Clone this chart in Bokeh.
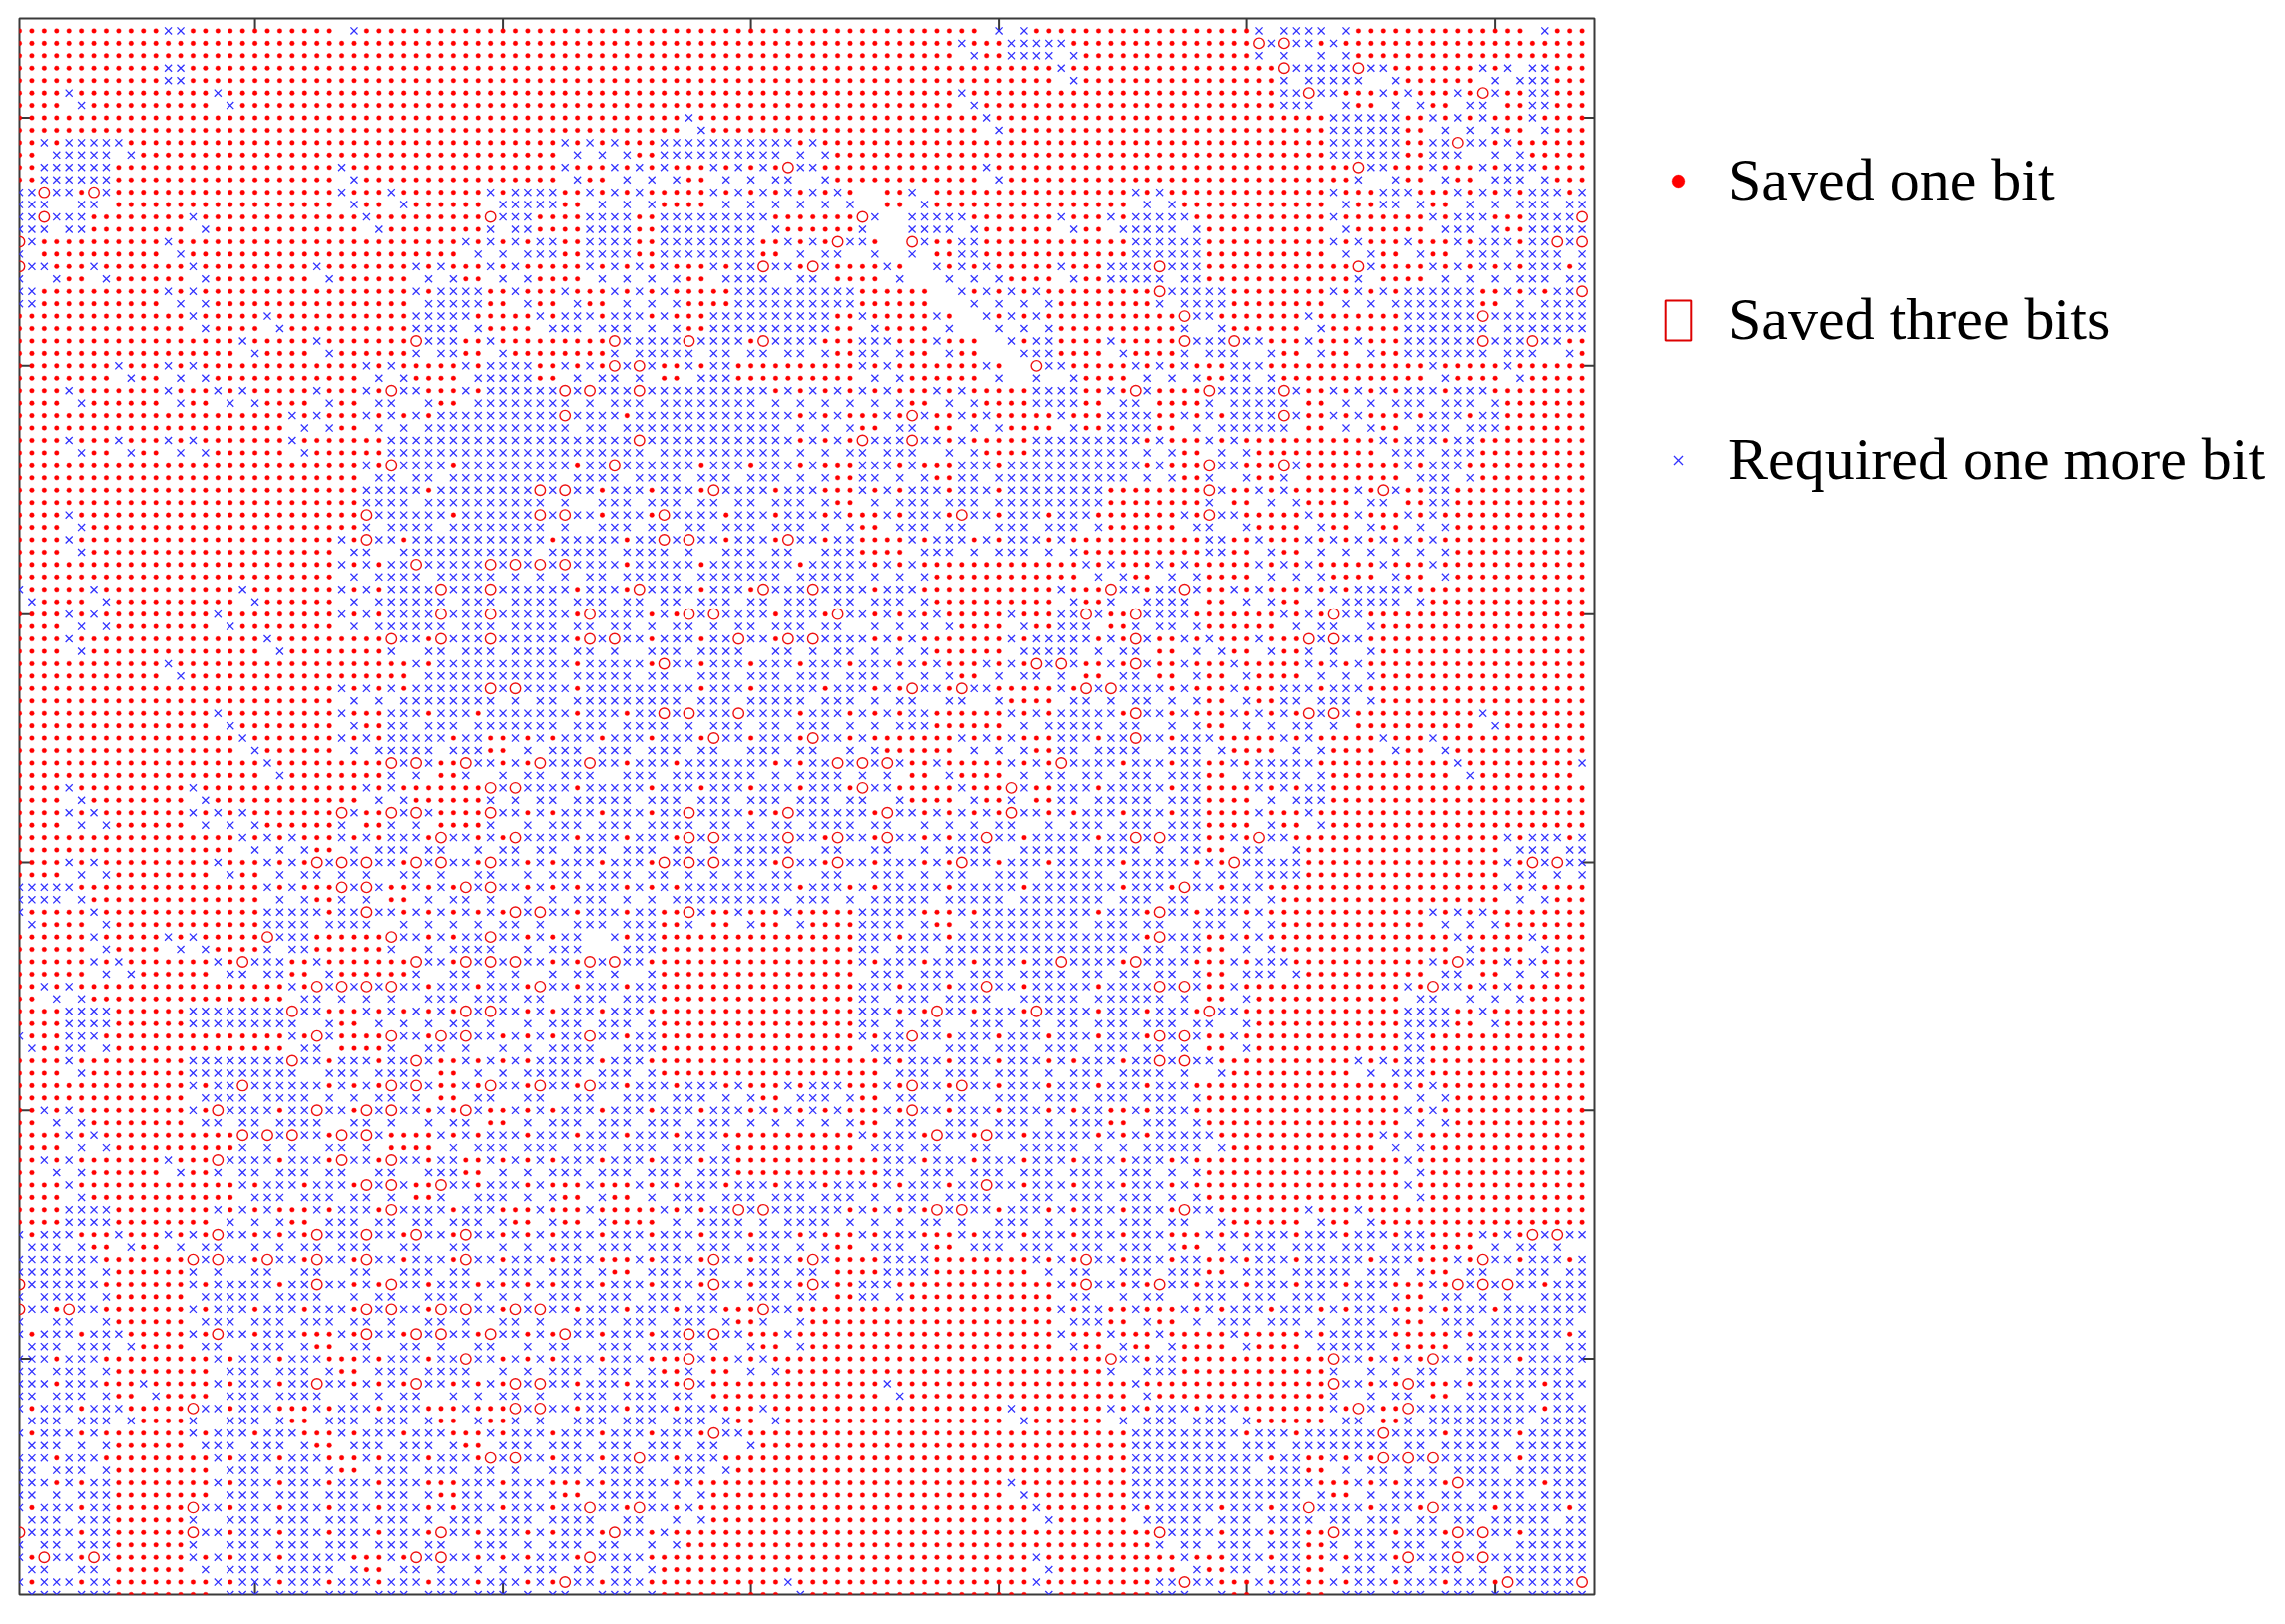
from bokeh.plotting import figure
from bokeh.models import Range1d, Legend, LegendItem
from bokeh.embed import file_html
from bokeh.resources import INLINE

# ---- data: map of the 127x127 cell grid, read in 2x2 blocks (64 x 64 blocks) ----
# block codes: '.' saved one bit, 'x' required one more bit, '%' mix of both,
# 'o' saved three bits with required-one-more-bit neighbours, ' ' empty
ROW_LEFT = [
"......x......%.......", ".....................", "......x..............", "..%.....%............",
".....................", ".%xx%................", ".xxx.........%.......", "xo%o.........%.%...%x",
"xox....%......%....ox", "o.....%...........%%%", "o%.%...%....%...%%.%%", "x.....%%........%xx.%",
".......%..%.....xx%..", ".........%..%...ox.%.", "....%.%%......%%..%xx", "..%...%.%%..%.%o%.%xx",
"...........%%.%%%xxxx", "..%.%.%%...%...xxxxxx", "..............%ox%xxx", "..............xx%xxxx",
"..%...........oxx%xxx", "..%..........%o%xxxxx", ".............%%xoxxoo", "%..%.....%...%%xxoxox",
"..%%....%....%%xxoxox", "..%.......%....o%oxox", "......%.........%xxxx", ".............%%%xxxoo",
"........%....%.x%x%xx", ".........%...%%xx%x.%", "..........%....oo.o%%", "..%....%......%%...oo",
"..%%...%%%...o.oo..o%", ".........%%%.%%x%o%%o", "..%%....%.%%ooo%oo%o%", "xx%.......%%.oo.%%oo%",
"%..%......xx%xo%%%%%o", "...%..%%..ox...o%%xo%", "...%%...%ox.%...o%ooo", ".%%........%oooo%x%x%",
"..xx...xxxxo%.%%%%oo%", "%.x%.......%o..o%oo%%", "..%....xxxxo%x%xo.%%%", ".......%xoxx%%%oo.%o%",
".%%....%ox%xo%oo%%o.%", "..%%.....ooo%oo..%%x%", ".%%...%.ox%x%o%o%x.%%", "..%......%x%x%oo.o%x%",
"..xx....%%%.%x%ox%x%.", "%x%.%.%%o%%%oxo%o%o%%", "xxx%...oo%o%o%o%x%o%x", "oxx%...%xx%xo%%o%x%%%",
"o%o%...%x%x%x%oo%oo%o", "%x%x%..%o%x%.%o%oo%o%", "x%x%....%x%x%.%x%xo%%", "x%x%.%..%x%xo%%%o%%%o",
"%x%x%..o%x%.%x%x%.%.o", "%x%%...%x%x%.%x%x%.%x", "x%x%....%x%x%.%x%x%oo", "x%%x....%x%x%x%x%.x%x",
"%x%x...o%x%x%x%x%%x%x", "ox%x...o%x%x%x%x%o%x%", "%o%o...%%x%xx%.%oo%%%", "%x%x....%x%x%x%x%x%x%",
]
ROW_MID = [
"..................%%.", ".................%.xx", ".....................", ".................%...",
"......%...........%..", ".%%%.xxxxx%%.........", ".%.%%%.%%%o%......%..", "x.%%%..%%%%%% .+.....",
"..xx.xxxx%...o xx%...", "x.xx.xxxx.%%o% o.x...", "..%%%%.%xo%o..% %%%..", ".%.%%%..xxxxx... %%%%",
"%x%x%%.xxxxx.%..% %%%", "...oxxox%ox%.x%.%. %x", ".%%oo.%x.....%%...% o", "xooxoxxxx%%%%%%.%%..x",
"xox%xxxxxx%%%.%o.%%..", "xxxxoxxxxx%%%oxo%%..x", "x%xoxx%x%x%%.x%%.x%xx", "oo%x%x%ox%x%.%%x%x%xx",
"oo%x%ox%x%x%%.%x%o%x%", "%xx%xoo%x%o%x..%x%%x%", "oox%xx%xxx%xx%%%.....", "x%x%ox%x%oxox%x%.....",
"x%ox%%oox%x%o%%%%..%.", "x%oo%x%xo%oox%%%...%x", "x%xx%o%x%x%x%x%%%.%%o", "x%xxxx%x%xx%x%%o%o%..",
"x%x%xooxox%x%%%x...%%", "%x%x%x%o%x%o%%...%%%.", "oxo%x%xxx%%xooo.%..%%", "x%xx%x%x%x%x%o%..%.o.",
"%x%x%xox%%oxx%o%%%%o%", "x%x%x%ooxxo%o%o%%xo%x", "%x%x%ooox%o%o%x%%o%x%", "%%x%%%xxxx%x%%xx%xx%x",
"o%x%x.o.%.%..xx%.%xxx", "%x %x........x%x%xxxx", "%%oo%........%x%x%x%x", "o%x%x........x%x%xo%x",
"%x%x%........x%%o%x%o", "%xo%x........%xo%x%x%", "xx%x%.........%x%x%x%", "o%o%x%x%%.%x%.%o%o%x%",
"%x%x%x%x%%%%%.%o%x%x%", "x%x%x%x%.....%x%o%o%x", "%x%x%x%x......x%x%x%x", "%.%.%%x%x%x%x%%x%xo%x",
"%.%..%%xooxx%%%%oo%x%", "%x%x%x%x%x%%.%x%.%x%x", "%x%.%x%o%x%o..xx....%", "%x%x%x%o%x%o.x%......",
"o%x%x%x%.o%..........", "%o%x%xoo%.%..........", "%x%x%.o.%%...........", "o%x%x%o.......%......",
"o%x%x%x%.%.........%.", "%x%x%x%o%............", "%x%xo%x%.............", "%.%xx%%............%.",
"%xo%o%%.............%", "%x%o%%...............", "x%ox%...............%", "%o%x%.....%.........%",
]
ROW_RIGHT = [
"........oxx%.......%..", "%.......oo%%..........", "%........oxxo%...%+x..", ".........xo%.%%.%o.x..",
"...........xxx.%%%.%..", "...........xxx.xo%%...", "............o%.%.%x%..", "...%%......%.x%.%%%x%x",
"%.%xx%.....%...%x%.xxo", "...xxx.....%%.%.%x%xoo", "%.xxox......o..%%%%x%x", "....oxx....%%%xxx.%%xo",
".....o%...%...xxxoxxxx", "..%..oxo%.%.%.xxxoxo%.", "%..%%%.x%......%..%...", "x.%o..oxxo.%%%x%x%....",
"%.xx.%%xxo.%%.%x%x....", "xxx%%.%%.....%x%x.....", "xxx%%.o%.o....%x%.....", "xx....o.%%..%o.x......",
"x%...%o%..%.%.%%......", "%.....x.%.%%%%%%......", ".%%.%%..%%%..%.%......", "%.o%xo.%%.%%xx%.......",
"xo.ox%...%%o%.........", "x%%o.%%.%.oo%.........", "o.%o.%.%..%%%.........", "%oox%%.%.x%x%.........",
"xx%o%%.%%%oo.....%....", "x%xo%x%..%%..%.%......", "ox%x%x.%xx%.....%....%", "x%xx%x..%%x...........",
"%x%x%x..%.%...........", "x%xoox.%o%........%x%x", "xx%xx%%oxx........%oox", "xx%x%o%x%.........%%..",
"x%x%o%x%%......%%%....", "xxx%ox.%%.......%..%..", "ox%ox%.%x%.....%o.%%..", "x%xxoo.%......%o%%%...",
"x%x%x%o%......xx.%....", "x%x%oo.%......x.......", "%x%xoo%.....%%x.......", "x%x%x%........%%......",
"%x.%x%........%%......", "x%%%xx%......%%.......", "%x%x%%........%.......", "%x%x%%........%.......",
"%x%x%o%...%.%.........", "%x%x%.%%x%x%x%x..%%oo%", "%o%x%x.%x%xx%x%.%o%x%x", "%o%%o%x%x%x%x%.%ooo%xx",
"%x.%.%%x%x%%x%.%x%xxx%", "%.%.%..%..%xx%..%xxx%x", "..o%x......o%%%o%x%xx%", "...%.......o%%o.%xx%x%",
"..%%x%x%...%o.oxxxx%xx", "...xxxx%x%xxxox%xx%xxx", "...xxxxx%x.%%oooxx%xxx", "...xxxxxxx%.%%x%oxx%xx",
"...%xx%x%xox%x%ox%xx%x", "....ox%x%x.ox%x%oo%xxx", ".....%.x%x.%x%oxooxxxx", "....xo%.%x.%x%x%x%oxxo",
]
# 2x2 expansion of each block code: (upper-left, upper-right, lower-left, lower-right)
BLOCK = {
    ".": ("d", "d", "d", "d"),
    ":": ("d", "d", "d", " "),
    " ": (" ", " ", " ", " "),
    "x": ("x", "x", "x", "x"),
    "%": ("x", "d", " ", "x"),
    "+": ("x", " ", " ", "x"),
    "o": ("o", "x", "x", " "),
}
LABELS = ["Saved one bit", "Saved three bits", "Required one more bit"]
TICKS = [20, 40, 60, 80, 100, 120]
AXIS_MIN, AXIS_MAX = 1, 128
N_CELLS = 127


def fit(s, n):
    return (s + "." * n)[:n]


pts = {"d": ([], []), "x": ([], []), "o": ([], [])}
for m in range(64):
    row = fit(ROW_LEFT[m], 21) + fit(ROW_MID[m], 21) + fit(ROW_RIGHT[m], 22)
    for k, ch in enumerate(row):
        pat = BLOCK.get(ch, BLOCK["."])
        cells = [(2 * k + 1, 128 - 2 * m, pat[0]), (2 * k + 2, 128 - 2 * m, pat[1]),
                 (2 * k + 1, 127 - 2 * m, pat[2]), (2 * k + 2, 127 - 2 * m, pat[3])]
        for cx, cy, t in cells:
            if cx > N_CELLS or cy > N_CELLS or t not in pts:
                continue
            pts[t][0].append(cx)
            pts[t][1].append(cy)

p = figure(frame_width=1578, frame_height=1580,
           x_range=Range1d(AXIS_MIN, AXIS_MAX), y_range=Range1d(AXIS_MIN, AXIS_MAX),
           x_axis_location=None, y_axis_location=None,
           output_backend="svg", toolbar_location=None,
           min_border_left=19, min_border_top=18, min_border_right=677, min_border_bottom=14)
p.background_fill_color = "white"
p.border_fill_color = "white"
p.grid.visible = False
p.outline_line_color = "#3a3a3a"
p.outline_line_width = 2

# inward tick marks on all four sides (length ~ one cell)
TL = 1.0
n = len(TICKS)
tick_style = dict(line_color="#3a3a3a", line_width=2)
p.segment(x0=TICKS, y0=[AXIS_MIN] * n, x1=TICKS, y1=[AXIS_MIN + TL] * n, **tick_style)
p.segment(x0=TICKS, y0=[AXIS_MAX] * n, x1=TICKS, y1=[AXIS_MAX - TL] * n, **tick_style)
p.segment(x0=[AXIS_MIN] * n, y0=TICKS, x1=[AXIS_MIN + TL] * n, y1=TICKS, **tick_style)
p.segment(x0=[AXIS_MAX] * n, y0=TICKS, x1=[AXIS_MAX - TL] * n, y1=TICKS, **tick_style)

r_dot = p.scatter(pts["d"][0], pts["d"][1], marker="circle", size=4.6,
                  fill_color="#ff0000", line_color="#ff0000", line_width=0.4)
r_x = p.scatter(pts["x"][0], pts["x"][1], marker="x", size=10,
                line_color="#3333ff", line_width=1.3)
r_o = p.scatter(pts["o"][0], pts["o"][1], marker="circle", size=10.5,
                fill_color=None, line_color="#ee1111", line_width=1.4)
# zero-size proxy glyph: only used to draw the boxed legend symbol of "Saved three bits"
r_box = p.rect(x=[AXIS_MIN], y=[AXIS_MIN], width=0, height=0, fill_color=None,
               line_color="#dd0000", line_width=2)

legend = Legend(items=[LegendItem(label=LABELS[0], renderers=[r_dot]),
                       LegendItem(label=LABELS[1], renderers=[r_box]),
                       LegendItem(label=LABELS[2], renderers=[r_x])],
                location=(69, 1103))
legend.glyph_width = 32
legend.glyph_height = 50
legend.label_height = 50
legend.label_standoff = 34
legend.label_text_font = "Liberation Serif"
legend.label_text_font_size = "60px"
legend.label_text_color = "black"
legend.padding = 0
legend.margin = 0
legend.spacing = 71
legend.border_line_color = None
legend.background_fill_alpha = 0
p.add_layout(legend, "right")

open("out.html", "w").write(file_html(p, INLINE))
